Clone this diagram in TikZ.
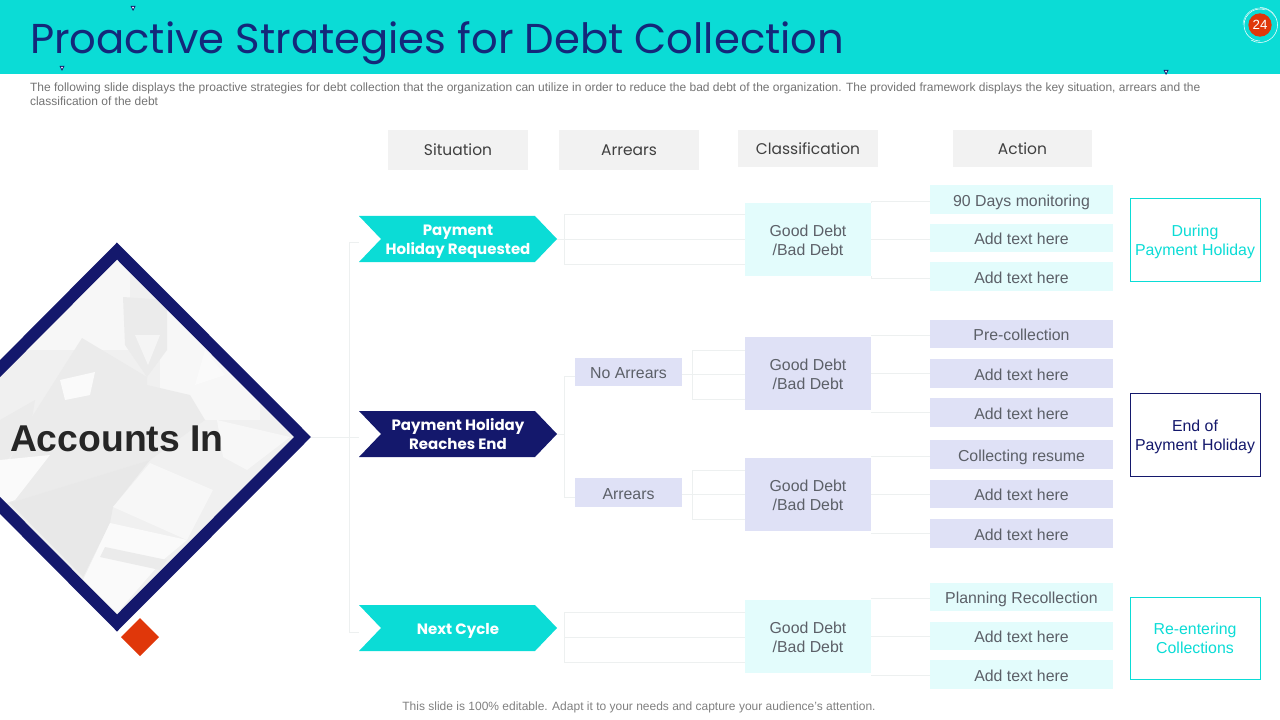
\documentclass[tikz,border=0pt]{standalone}
\usepackage{fontspec}
\setmainfont{Liberation Sans}
\newfontfamily\geo{Poppins}
\definecolor{teal1}{HTML}{0BDCD6}
\definecolor{navy1}{HTML}{14186C}
\definecolor{titleblue}{HTML}{14287A}
\definecolor{red1}{HTML}{E0370A}
\definecolor{lteal}{HTML}{E3FCFC}
\definecolor{lav}{HTML}{DFE1F6}
\definecolor{hdr}{HTML}{F2F2F2}
\definecolor{txt}{HTML}{5C6068}
\definecolor{wire}{HTML}{EDF0F0}
\tikzset{
  every node/.style={inner sep=0pt,outer sep=0pt},
  sanspos/.style={execute at end node={\rule[-3.2pt]{0pt}{3.2pt}}},
  single/.style={execute at begin node={\rule{0pt}{13.3pt}}},
  lbl/.style={sanspos,text=txt,align=center,font=\fontsize{11.9}{14.25}\selectfont},
  hdrbox/.style={fill=hdr,text=black!75,font=\geo\fontsize{11.6}{14}\selectfont,
    execute at begin node={\rule{0pt}{11.5pt}},execute at end node={\rule[-3.2pt]{0pt}{3.2pt}}},
  tealbox/.style={lbl,fill=lteal},
  lavbox/.style={lbl,fill=lav},
  chevtext/.style={text=white,align=center,font=\geo\bfseries\fontsize{11.25}{14.25}\selectfont,execute at end node={\rule[-3.2pt]{0pt}{3.2pt}}},
  wirel/.style={draw=wire,line width=0.6pt},
  sidebox/.style={sanspos,line width=0.6pt,fill=white,align=center,font=\fontsize{11.9}{14.25}\selectfont},
}
\newcommand{\tallA}{\rule{0pt}{12.6pt}}
\newcommand{\tallB}{\rule{0pt}{12pt}}
\newcommand{\tallC}{\rule{0pt}{11.6pt}}
\newcommand{\bx}[7]{\node[#6,minimum width={(#4-#2)*0.75pt},minimum height={(#5-#3)*0.75pt}] (#1) at ({(#2+#4)/2},{(#3+#5)/2}) {#7};}
\newcommand{\chev}[4]{%
  \fill[#3] (359,#2-23) -- (535,#2-23) -- (557,#2) -- (535,#2+23) -- (359,#2+23) -- (381,#2) -- cycle;
  \node[chevtext,minimum width=148.5pt,minimum height=34.5pt] (#1) at (458,#2) {#4};}
\begin{document}
\begin{tikzpicture}[x=0.75pt,y=-0.75pt]
\useasboundingbox (0,0) rectangle (1280,720);
\clip (0,0) rectangle (1280,720);
% header
\fill[teal1] (0,0) rectangle (1280,74);
\node[anchor=base west,text=titleblue,font=\geo\fontsize{31.3}{36}\selectfont] (title) at (30,53.5) {Proactive Strategies for Debt Collection};
\foreach \p in {(133,8),(62,68),(1166,72)}{
  \fill[navy1] \p ++(-2.5,-2) -- ++(5,0) -- ++(-2.5,5) -- cycle;
  \fill[white] \p ++(-1,-1) -- ++(2,0) -- ++(-1,2) -- cycle;
}
\node[circle,fill=red1,minimum size=17.5pt,text=white,font=\fontsize{10}{12}\selectfont] (pg) at (1260,25) {24};
\draw[white,line width=0.4pt] (1260,7.5) arc[start angle=-90,end angle=120,radius=17.5];
\draw[white,line width=0.4pt] (1260,41) arc[start angle=90,end angle=290,radius=16];
\draw[white!70!teal1,line width=0.4pt] (1243,25) arc[start angle=180,end angle=330,radius=17];
% intro
\node[anchor=north west,text=black!55,font=\fontsize{9}{10.6}\selectfont,align=left] (intro) at (30,82.5) {The following slide displays the proactive strategies for debt collection that the organization can utilize in order to reduce the bad debt of the organization. The provided framework displays the key situation, arrears and the\\classification of the debt};
% diamond picture
\begin{scope}
\clip (117,251) -- (302.5,437) -- (117,623) -- (-68,437) -- cycle;
\fill[black!6] (-70,240) rectangle (310,640);
\fill[black!3] (-70,240) rectangle (130,350);
\fill[black!3] (160,280) rectangle (260,420);
\fill[black!8] (82,338) -- (147,377) -- (147,385) -- (190,395) -- (205,420) -- (150,460) -- (10,503) -- (0,480) -- (30,420) -- cycle;
\fill[black!8] (123,297) -- (167,300) -- (167,350) -- (147,377) -- (125,345) -- cycle;
\fill[black!4] (135,335) -- (160,335) -- (148,365) -- cycle;
\fill[black!2] (205,350) -- (225,375) -- (195,385) -- cycle;
\fill[black!2] (60,380) -- (95,372) -- (90,395) -- (65,400) -- cycle;
\fill[black!3] (217,420) -- (290,437) -- (247,470) -- (223,457) -- cycle;
\fill[black!9] (10,503) -- (150,460) -- (113,507) -- (110,523) -- (83,577) -- cycle;
\fill[black!3] (113,507) -- (150,463) -- (213,490) -- (187,540) -- cycle;
\fill[black!2] (83,580) -- (110,523) -- (187,540) -- (163,560) -- (117,613) -- cycle;
\fill[black!8] (105,547) -- (167,560) -- (160,570) -- (100,557) -- cycle;
\fill[black!8] (0,420) -- (35,400) -- (30,430) -- (0,470) -- cycle;
\fill[black!2] (0,460) -- (50,455) -- (15,500) -- (0,505) -- cycle;
\end{scope}
\draw[navy1,line width=9pt,miter limit=10] (117,251) -- (302.5,437) -- (117,623) -- (-68,437) -- cycle;
\node[anchor=base west,font=\bfseries\fontsize{28}{32}\selectfont,text=black!85] (acc) at (10,451) {Accounts In};
\fill[red1] (140,618) -- (159,637) -- (140,656) -- (121,637) -- cycle;
\coordinate (dtip) at (311,437);
\coordinate (t0) at (349,437);
% chevrons
\chev{ch1}{239}{teal1}{\tallB Payment\\Holiday Requested}
\chev{ch2}{434}{navy1}{\tallB Payment Holiday\\Reaches End}
\chev{ch3}{628}{teal1}{\rule{0pt}{12.6pt}Next Cycle}
% headers
\bx{h1}{388}{130}{528}{170}{hdrbox}{Situation}
\bx{h2}{559}{130}{699}{170}{hdrbox}{Arrears}
\bx{h3}{738}{130}{878}{167}{hdrbox}{Classification}
\bx{h4}{953}{130}{1092}{167}{hdrbox}{Action}
% classification
\bx{c1}{745}{203}{871}{276}{tealbox}{\tallA Good Debt\\/Bad Debt}
\bx{c2}{745}{337}{871}{410}{lavbox}{\tallA Good Debt\\/Bad Debt}
\bx{c3}{745}{458}{871}{531}{lavbox}{\tallA Good Debt\\/Bad Debt}
\bx{c4}{745}{600}{871}{673}{tealbox}{\tallA Good Debt\\/Bad Debt}
% arrears
\bx{na}{575}{358}{682}{386}{lavbox,single}{No Arrears}
\bx{ar}{575}{478}{682}{507}{lavbox,single}{Arrears}
% actions
\bx{a11}{930}{185}{1113}{214}{tealbox,single}{90 Days monitoring}
\bx{a12}{930}{224}{1113}{252}{tealbox,single}{Add text here}
\bx{a13}{930}{262}{1113}{291}{tealbox,single}{Add text here}
\bx{a21}{930}{320}{1113}{348}{lavbox,single}{Pre-collection}
\bx{a22}{930}{359}{1113}{388}{lavbox,single}{Add text here}
\bx{a23}{930}{398}{1113}{427}{lavbox,single}{Add text here}
\bx{a31}{930}{440}{1113}{469}{lavbox,single}{Collecting resume}
\bx{a32}{930}{480}{1113}{508}{lavbox,single}{Add text here}
\bx{a33}{930}{519}{1113}{548}{lavbox,single}{Add text here}
\bx{a41}{930}{583}{1113}{611}{tealbox,single}{Planning Recollection}
\bx{a42}{930}{622}{1113}{650}{tealbox,single}{Add text here}
\bx{a43}{930}{660}{1113}{689}{tealbox,single}{Add text here}
% side boxes
\bx{s1}{1130}{198}{1260}{281}{sidebox,draw=teal1,text=teal1}{\tallA During\\Payment Holiday}
\bx{s2}{1130}{393}{1260}{476}{sidebox,draw=navy1,text=navy1}{\tallA End of\\Payment Holiday}
\bx{s3}{1130}{597}{1260}{679}{sidebox,draw=teal1,text=teal1}{\tallC Re-entering\\Collections}
% footer
\node[text=black!50,font=\fontsize{9}{11}\selectfont] (foot) at (639,707) {This slide is 100\% editable. Adapt it to your needs and capture your audience's attention.};
% connectors
\draw[wirel] (dtip) -- (t0);
\draw[wirel] (ch1.west |- 0,242) -- (349,242) -- (349,632) -- (ch3.west |- 0,632);
\draw[wirel] (t0) -- (ch2.west |- t0);
% situation to classification
\draw[wirel] (c1.west |- 0,214) -- (564,214) -- (564,264) -- (c1.west |- 0,264);
\draw[wirel] (ch1.east) -- (c1.west |- ch1.east);
\draw[wirel] (c4.west |- 0,612) -- (564,612) -- (564,662) -- (c4.west |- 0,662);
\draw[wirel] (564,637) -- (c4.west |- 0,637);
% middle
\draw[wirel] (ch2.east) -- (564,434);
\draw[wirel] (na.west |- 0,376) -- (564,376) -- (564,497) -- (ar.west |- 0,497);
\draw[wirel] (c2.west |- 0,350) -- (692,350) -- (692,399) -- (c2.west |- 0,399);
\draw[wirel] (na.east |- 0,374) -- (c2.west |- 0,374);
\draw[wirel] (c3.west |- 0,470) -- (692,470) -- (692,519) -- (c3.west |- 0,519);
\draw[wirel] (ar.east |- 0,494) -- (c3.west |- 0,494);
% classification to actions
\draw[wirel] (c1.north east) -- (c1.east |- 0,201) -- (a11.west |- 0,201);
\draw[wirel] (c1.east) -- (a12.west |- c1.east);
\draw[wirel] (c1.south east) -- (c1.east |- 0,278) -- (a13.west |- 0,278);
\draw[wirel] (c2.east |- 0,335) -- (a21.west |- 0,335);
\draw[wirel] (c2.east) -- (a22.west |- c2.east);
\draw[wirel] (c2.east |- 0,412) -- (a23.west |- 0,412);
\draw[wirel] (c3.east |- 0,456) -- (a31.west |- 0,456);
\draw[wirel] (c3.east) -- (a32.west |- c3.east);
\draw[wirel] (c3.east |- 0,533) -- (a33.west |- 0,533);
\draw[wirel] (c4.east |- 0,598) -- (a41.west |- 0,598);
\draw[wirel] (c4.east) -- (a42.west |- c4.east);
\draw[wirel] (c4.east |- 0,675) -- (a43.west |- 0,675);
\end{tikzpicture}
\end{document}
